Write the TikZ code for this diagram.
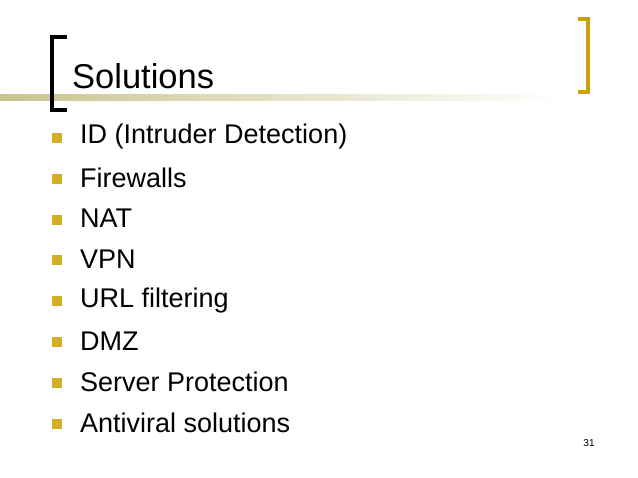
\documentclass[tikz,border=0pt]{standalone}
\usepackage{fontspec}
\setmainfont{Liberation Sans}
\definecolor{gold}{HTML}{C9A100}
\definecolor{olive}{HTML}{C8C48E}
\begin{document}
\begin{tikzpicture}[x=1pt,y=-1pt,
  item/.style={anchor=west,font=\fontsize{27}{30}\selectfont,inner sep=0pt},
  bul/.style={fill=gold!85,minimum size=10pt,inner sep=0pt}]
\useasboundingbox[fill=white] (0,0) rectangle (638,478);
\shade[left color=olive,right color=white] (0,95) rectangle (565,101);
\draw[line width=4pt] (67,37) -- (52,37) -- (52,110) -- (67,110);
\draw[line width=4pt,gold] (578,19) -- (588,19) -- (588,92) -- (578,92);
\node[anchor=base west,inner sep=0pt,font=\fontsize{34.5}{40}\selectfont] (title) at (72,89) {Solutions};
\foreach \t [count=\i] in {ID (Intruder Detection),Firewalls,NAT,VPN,URL filtering,DMZ,Server Protection,Antiviral solutions}{
  \node[bul] (b\i) at (57,{138+40.8*(\i-1)}) {};
  \node[item] (t\i) at (80,{137+40.8*(\i-1)}) {\t};
}
\node[font=\fontsize{10}{12}\selectfont] (num) at (589,443) {31};
\end{tikzpicture}
\end{document}
